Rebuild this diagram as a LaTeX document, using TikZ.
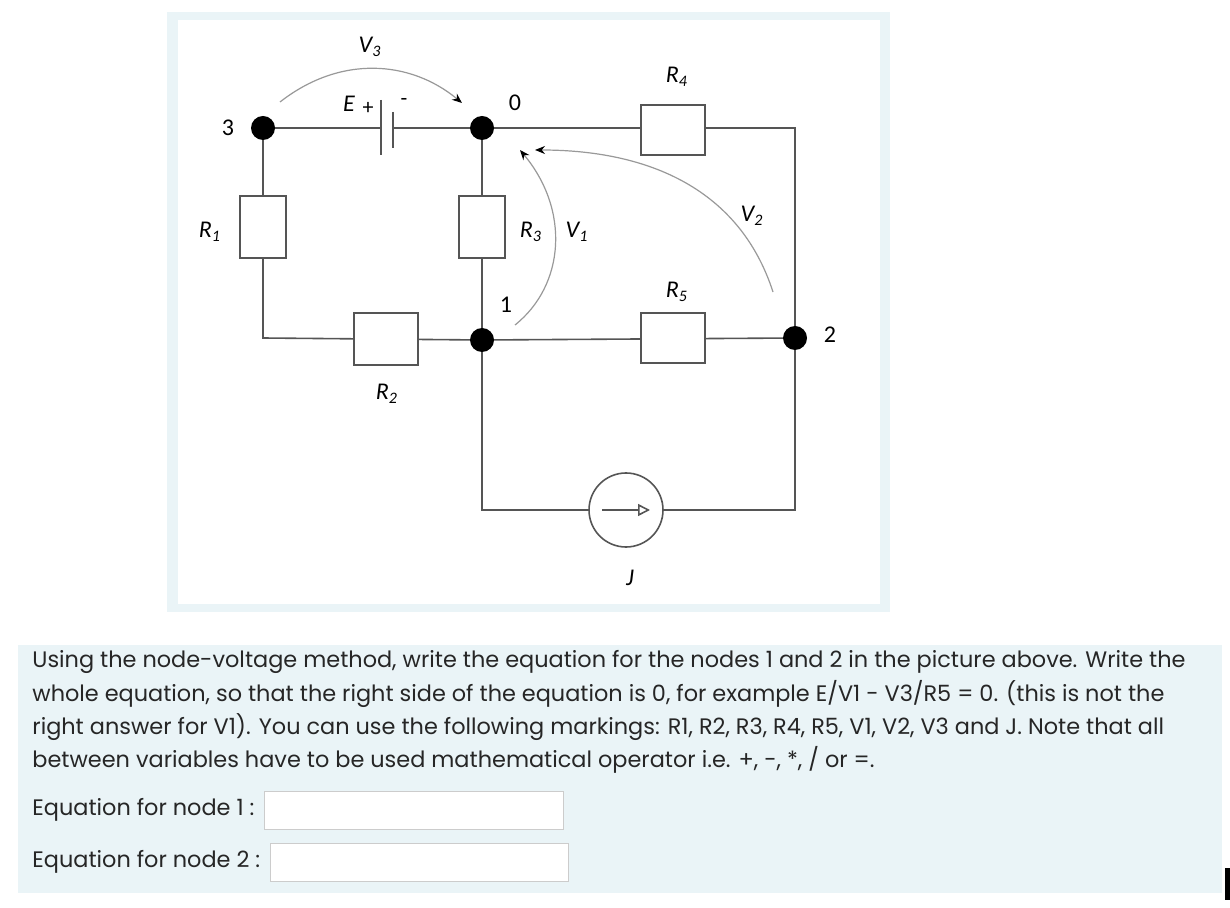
\documentclass[tikz,border=0pt]{standalone}
\usepackage{fontspec}
\setmainfont{Poppins}
\newfontfamily\calfont{Carlito}
\usetikzlibrary{arrows.meta}
\definecolor{panel}{HTML}{EAF4F7}
\definecolor{wire}{HTML}{555555}
\newcommand{\sbs}[1]{\textsubscript{#1}}
\begin{document}
\begin{tikzpicture}[x=0.5pt,y=-0.5pt,
  w/.style={draw=wire,line width=0.8pt},
  res/.style={draw=wire,line width=0.8pt,fill=white},
  dot/.style={circle,fill=black,inner sep=0pt,minimum size=12pt},
  lab/.style={font=\calfont\itshape\fontsize{12}{13}\selectfont,inner sep=0pt},
  num/.style={font=\calfont\fontsize{11}{13}\selectfont,inner sep=0pt},
  va/.style={draw=gray!80,line width=0.6pt,-{Stealth[length=5pt,width=4pt,color=black]}},
  txt/.style={font=\fontsize{11.2}{13}\selectfont,anchor=west,inner sep=0pt,text=black!85}]
\useasboundingbox (0,0) rectangle (1230,908);
% panels
\fill[panel] (167,12) rectangle (890,612);
\fill[white] (178,20) rectangle (880,604);
\fill[panel] (18,645) rectangle (1222,893);
\fill[black] (1225,868) rectangle (1230,900);
% nodes
\coordinate (n3) at (263,128);
\coordinate (n0) at (482,128);
\coordinate (n1) at (482,340);
\coordinate (n2) at (795,338);
\coordinate (tr) at (795,128);
\coordinate (bl) at (263,338);
\coordinate (bb) at (482,510);
\coordinate (br) at (795,510);
% wires
\draw[w] (n3) -- (381,128) (393,128) -- (n0) -- (tr) -- (n2);
\draw[w] (n3) -- (bl) -- (n1) -- (n2) -- (br) -- (bb) -- (n1) -- (n0);
% battery
\draw[w] (381,100) -- (381,155);
\draw[w] (393,112) -- (393,148);
% resistors
\node[res,minimum width=32pt,minimum height=25pt,inner sep=0pt] (R4) at (673,130) {};
\node[res,minimum width=23pt,minimum height=31pt,inner sep=0pt] (R1) at (263,227) {};
\node[res,minimum width=23pt,minimum height=31pt,inner sep=0pt] (R3) at (482,227) {};
\node[res,minimum width=32pt,minimum height=26pt,inner sep=0pt] (R2) at (386,339) {};
\node[res,minimum width=32pt,minimum height=25pt,inner sep=0pt] (R5) at (673,338) {};
% current source
\node[circle,draw=wire,line width=0.8pt,fill=white,minimum size=37pt,inner sep=0pt] (J) at (626,510) {};
\draw[wire,line width=0.8pt,-{Triangle[open,length=6pt,width=6pt]}] (602,510) -- (650,510);
% dots
\node[dot] (d3) at (n3) {};
\node[dot] (d0) at (n0) {};
\node[dot] (d1) at (n1) {};
\node[dot] (d2) at (n2) {};
% voltage arrows
\draw[va] (280,102) .. controls (340,55) and (410,60) .. (462,103);
\draw[va] (515,325) .. controls (565,285) and (570,210) .. (520,150);
\draw[va] (773,292) .. controls (740,190) and (650,150) .. (535,150);
% labels
\node[lab] at (370,47) {V\sbs{3}};
\node[lab] at (349,104) {E};
\node[num] at (368,108) {+};
\node[num] at (404,102) {-};
\node[num,font=\calfont\fontsize{12}{13}\selectfont] at (515,103) {0};
\node[num,font=\calfont\fontsize{12}{13}\selectfont] at (228,128) {3};
\node[lab] at (677,77) {R\sbs{4}};
\node[lab] at (210,232) {R\sbs{1}};
\node[lab] at (531,232) {R\sbs{3}};
\node[lab] at (577,232) {V\sbs{1}};
\node[lab] at (752,216) {V\sbs{2}};
\node[lab] at (677,292) {R\sbs{5}};
\node[num,font=\calfont\fontsize{12}{13}\selectfont] at (506,305) {1};
\node[num,font=\calfont\fontsize{12}{13}\selectfont] at (830,335) {2};
\node[lab] at (387,394) {R\sbs{2}};
\node[lab] at (630,578) {J};
% text
\node[txt] (t1) at (32,662) {Using the node-voltage method, write the equation for the nodes 1 and 2 in the picture above. Write the};
\node[txt] (t2) at (32,694) {whole equation, so that the right side of the equation is 0, for example E/V1 - V3/R5 = 0. (this is not the};
\node[txt] (t3) at (32,727) {right answer for V1). You can use the following markings: R1, R2, R3, R4, R5, V1, V2, V3 and J. Note that all};
\node[txt] (t4) at (32,760) {between variables have to be used mathematical operator i.e. +, -, *, / or =.};
\node[txt] (t5) at (32,810) {Equation for node 1 :};
\node[txt] (t6) at (32,862) {Equation for node 2 :};
\draw[draw=gray!40,fill=white] (264,791) rectangle (563,829);
\draw[draw=gray!40,fill=white] (270,843) rectangle (568,881);
\end{tikzpicture}
\end{document}
